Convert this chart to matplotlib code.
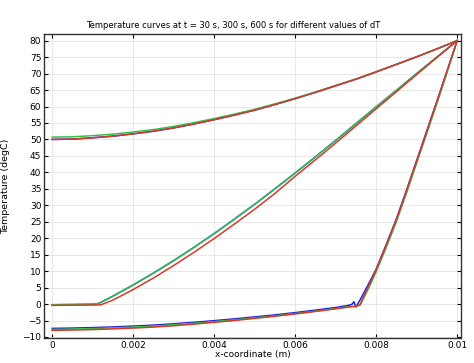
import matplotlib
matplotlib.use("Agg")
import matplotlib.pyplot as plt
import numpy as np

# x-Koordinaten (m) und Temperaturen (degC), abgelesen aus dem Bild
# t = 600 s (obere Kurve)
x_top = [0, 0.0005, 0.001, 0.0015, 0.002, 0.0025, 0.003, 0.0035, 0.004, 0.0045, 0.005,
         0.0055, 0.006, 0.0065, 0.007, 0.0075, 0.008, 0.0085, 0.009, 0.0095, 0.01]
top_red = [50.0, 50.1, 50.5, 51.0, 51.7, 52.5, 53.5, 54.7, 56.0, 57.4, 58.9,
           60.6, 62.4, 64.3, 66.3, 68.3, 70.5, 72.8, 75.1, 77.5, 80.0]
top_green = [50.7, 50.8, 51.15, 51.6, 52.25, 53.0, 53.95, 55.1, 56.35, 57.7, 59.15,
             60.8, 62.55, 64.4, 66.4, 68.35, 70.55, 72.8, 75.1, 77.5, 80.0]
top_blue = top_red  # liegt unter der roten Kurve

# t = 300 s (mittlere Kurve)
x_mid = [0, 0.0005, 0.001, 0.0011, 0.0012, 0.0015, 0.002, 0.0025, 0.003, 0.0035, 0.004,
         0.0045, 0.005, 0.0055, 0.006, 0.0065, 0.007, 0.0075, 0.008, 0.0085, 0.009, 0.0095, 0.01]
mid_green = [-0.2, -0.15, -0.05, 0.0, 0.5, 2.4, 5.8, 9.4, 13.2, 17.2, 21.4,
             25.8, 30.3, 35.0, 39.8, 44.7, 49.7, 54.8, 59.9, 64.9, 70.0, 75.0, 80.0]
mid_red = [-0.4, -0.35, -0.3, -0.27, -0.25, 1.2, 4.4, 7.9, 11.7, 15.7, 19.9,
           24.3, 28.8, 33.6, 38.8, 43.8, 48.9, 54.1, 59.3, 64.5, 69.7, 74.9, 80.0]
mid_blue = mid_green  # liegt unter der gruenen Kurve

# t = 30 s (untere Kurve)
x_bot = [0, 0.0005, 0.001, 0.0015, 0.002, 0.0025, 0.003, 0.0035, 0.004, 0.0045, 0.005,
         0.0055, 0.006, 0.0065, 0.007, 0.0073, 0.0074, 0.00745, 0.0075, 0.0076, 0.0078,
         0.008, 0.00825, 0.0085, 0.00875, 0.009, 0.00925, 0.0095, 0.00975, 0.01]
bot_blue = [-7.4, -7.3, -7.15, -6.95, -6.7, -6.4, -6.0, -5.55, -5.05, -4.5, -3.9,
            -3.3, -2.6, -1.85, -1.05, -0.45, -0.1, 0.7, -0.9, 1.2, 5.8,
            10.6, 18.1, 25.9, 34.6, 43.6, 52.6, 61.6, 70.8, 80.0]
bot_green = [-7.7, -7.6, -7.45, -7.25, -7.0, -6.7, -6.3, -5.85, -5.35, -4.8, -4.2,
             -3.6, -2.9, -2.15, -1.35, -0.85, -0.75, -0.7, -0.65, -0.4, 4.4,
             9.8, 17.2, 25.0, 33.7, 42.8, 51.8, 60.9, 70.3, 80.0]
bot_red = [-8.0, -7.9, -7.75, -7.55, -7.3, -7.0, -6.6, -6.1, -5.55, -5.0, -4.35,
           -3.7, -3.0, -2.25, -1.45, -0.95, -0.8, -0.75, -0.7, -0.2, 5.1,
           10.4, 17.9, 25.7, 34.4, 43.4, 52.4, 61.5, 70.7, 80.0]

c_blue = "#2020e0"
c_green = "#30c050"
c_red = "#d83828"

fig = plt.figure(figsize=(4.74, 3.63), dpi=100)
ax = fig.add_axes([0.093, 0.069, 0.880, 0.838])

for xs, b, g, r in [(x_top, top_blue, top_green, top_red),
                    (x_mid, mid_blue, mid_green, mid_red),
                    (x_bot, bot_blue, bot_green, bot_red)]:
    ax.plot(xs, b, color=c_blue, lw=1.1)
    ax.plot(xs, g, color=c_green, lw=1.1)
    ax.plot(xs, r, color=c_red, lw=1.1)

ax.set_xlim(-0.0002, 0.0101)
ax.set_ylim(-10.3, 82.1)
ax.set_xticks(np.arange(0, 0.0101, 0.002))
ax.set_xticklabels(["0", "0.002", "0.004", "0.006", "0.008", "0.01"])
ax.set_yticks(np.arange(-10, 81, 5))
ax.grid(True, color="#e4e4e4", lw=0.6)
ax.set_axisbelow(True)
ax.tick_params(direction="in", top=True, right=True, labelsize=6.5, length=3, width=0.8, pad=2)
for s in ax.spines.values():
    s.set_linewidth(1.0)
    s.set_color("#333333")

ax.set_title("Temperature curves at t = 30 s, 300 s, 600 s for different values of dT",
             fontsize=6.0, pad=4, x=0.453)
ax.set_xlabel("x-coordinate (m)", fontsize=6.5, labelpad=0)
ax.set_ylabel("Temperature (degC)", fontsize=6.8)
ax.yaxis.set_label_coords(-0.082, 0.5)

plt.savefig("out.png", dpi=100)
